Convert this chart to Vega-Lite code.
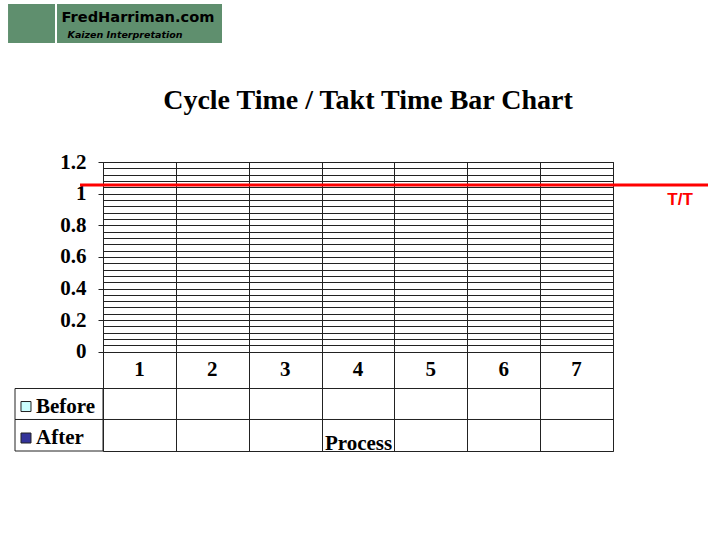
{
  "$schema": "https://vega.github.io/schema/vega-lite/v6.json",
  "padding": {"left": 8, "top": 3, "right": 10, "bottom": 5},
  "background": "white",
  "config": {"font": "Liberation Serif", "view": {"stroke": null}},
  "datasets": {
    "cells": [
      {"process": "1", "series": "Before", "value": null},
      {"process": "1", "series": "After", "value": null},
      {"process": "2", "series": "Before", "value": null},
      {"process": "2", "series": "After", "value": null},
      {"process": "3", "series": "Before", "value": null},
      {"process": "3", "series": "After", "value": null},
      {"process": "4", "series": "Before", "value": null},
      {"process": "4", "series": "After", "value": null},
      {"process": "5", "series": "Before", "value": null},
      {"process": "5", "series": "After", "value": null},
      {"process": "6", "series": "Before", "value": null},
      {"process": "6", "series": "After", "value": null},
      {"process": "7", "series": "Before", "value": null},
      {"process": "7", "series": "After", "value": null}
    ],
    "takt": [{"label": "T/T", "value": 1.055}],
    "logo": [{"line": "FredHarriman.com"}, {"line": "Kaizen Interpretation"}]
  },
  "bounds": "full",
  "spacing": 42,
  "vconcat": [
    {
      "width": 119,
      "height": 39,
      "data": {"name": "logo"},
      "layer": [
        {
          "transform": [{"filter": "datum.line == 'FredHarriman.com'"}],
          "mark": {"type": "rect", "fill": "#5f8f6e"},
          "encoding": {
            "x": {"datum": -0.798, "type": "quantitative", "scale": {"domain": [0, 1], "nice": false, "zero": false}, "axis": null},
            "x2": {"datum": 1}
          }
        },
        {
          "transform": [{"filter": "datum.line == 'FredHarriman.com'"}],
          "mark": {"type": "rule", "color": "white", "strokeWidth": 2},
          "encoding": {
            "x": {"datum": -0.395, "type": "quantitative", "axis": null}
          }
        },
        {
          "transform": [{"filter": "datum.line == 'FredHarriman.com'"}],
          "mark": {"type": "text", "font": "DejaVu Sans", "fontSize": 14.6, "fontWeight": "bold", "color": "black", "baseline": "middle", "align": "center"},
          "encoding": {
            "x": {"datum": 0.294, "type": "quantitative", "axis": null},
            "y": {"field": "line", "type": "nominal", "scale": {"type": "point", "domain": ["FredHarriman.com", "Kaizen Interpretation"], "padding": 0.68, "align": 0.644}, "axis": null},
            "text": {"field": "line"}
          }
        },
        {
          "transform": [{"filter": "datum.line == 'Kaizen Interpretation'"}],
          "mark": {"type": "text", "font": "DejaVu Sans", "fontSize": 9.5, "fontWeight": "bold", "fontStyle": "italic", "color": "black", "baseline": "middle", "align": "center"},
          "encoding": {
            "x": {"datum": 0.185, "type": "quantitative", "axis": null},
            "y": {"field": "line", "type": "nominal", "axis": null},
            "text": {"field": "line"}
          }
        }
      ]
    },
    {
      "width": 510,
      "height": 289,
      "view": {"stroke": "#222", "strokeWidth": 1},
      "title": {"text": "Cycle Time / Takt Time Bar Chart", "font": "Liberation Serif", "fontSize": 28, "fontWeight": "bold", "color": "black", "frame": "group", "anchor": "middle", "dx": 10, "offset": 36},
      "data": {"name": "cells"},
      "layer": [
        {
          "mark": {"type": "bar"},
          "encoding": {
            "x": {"field": "process", "type": "nominal", "scale": {"type": "band", "domain": ["1", "2", "3", "4", "5", "6", "7"], "paddingInner": 0, "paddingOuter": 0}, "axis": null},
            "y": {"field": "value", "type": "quantitative", "stack": null, "title": null, "scale": {"domain": [-0.6275, 1.2], "nice": false, "zero": false}},
            "color": {"field": "series", "type": "nominal", "scale": {"domain": ["Before", "After"], "range": ["#CCFFFF", "#333399"]}, "legend": null}
          }
        },
        {
          "transform": [{"filter": "datum.series == 'Before'"}],
          "mark": {"type": "text", "font": "Liberation Serif", "fontSize": 21, "fontWeight": "bold", "color": "black", "baseline": "middle"},
          "encoding": {
            "x": {
              "field": "process", "type": "nominal",
              "scale": {"type": "band", "domain": ["1", "2", "3", "4", "5", "6", "7"], "paddingInner": 0, "paddingOuter": 0},
              "axis": {"labels": false, "ticks": false, "domain": false, "grid": true, "gridColor": "#222", "gridOpacity": 1, "gridWidth": 1, "tickBand": "extent", "title": "Process", "titleFont": "Liberation Serif", "titleFontSize": 21, "titleFontWeight": "bold", "titleColor": "black", "titleBaseline": "alphabetic", "titleY": -2}
            },
            "y": {
              "datum": -0.1153, "type": "quantitative",
              "scale": {"domain": [-0.6275, 1.2], "nice": false, "zero": false},
              "axis": {
                "values": [0, 0.04, 0.08, 0.12, 0.16, 0.2, 0.24, 0.28, 0.32, 0.36, 0.4, 0.44, 0.48, 0.52, 0.56, 0.6, 0.64, 0.68, 0.72, 0.76, 0.8, 0.84, 0.88, 0.92, 0.96, 1, 1.04, 1.08, 1.12, 1.16, 1.2],
                "tickCount": 100,
                "title": null,
                "domain": false,
                "grid": true, "gridColor": "#222", "gridOpacity": 1, "gridWidth": 1,
                "ticks": true, "tickSize": 5, "tickColor": "#222", "tickWidth": 1,
                "tickOpacity": {"condition": {"test": "abs(datum.value*5 - round(datum.value*5)) < 0.001", "value": 1}, "value": 0},
                "labelExpr": "abs(datum.value*5 - round(datum.value*5)) < 0.001 ? toString(round(datum.value*10)/10) : ''",
                "labelFont": "Liberation Serif", "labelFontSize": 21, "labelFontWeight": "bold", "labelColor": "black",
                "labelPadding": 12, "labelOverlap": false, "labelFlush": false, "labelBound": false
              }
            },
            "text": {"field": "process"}
          }
        },
        {
          "transform": [{"filter": "datum.process == '1' && datum.series == 'Before'"}],
          "mark": {"type": "rect", "fill": "white", "stroke": "#222", "strokeWidth": 1},
          "encoding": {
            "x": {"datum": -1.2078, "type": "quantitative", "scale": {"domain": [0, 7], "nice": false, "zero": false}, "axis": null},
            "x2": {"datum": 0},
            "y": {"datum": -0.2323, "type": "quantitative"},
            "y2": {"datum": -0.4283}
          }
        },
        {
          "transform": [{"filter": "datum.process == '1' && datum.series == 'Before'"}],
          "mark": {"type": "rule", "color": "#222", "strokeWidth": 1},
          "encoding": {"y": {"datum": -0.2323, "type": "quantitative"}}
        },
        {
          "transform": [{"filter": "datum.process == '1' && datum.series == 'Before'"}],
          "mark": {"type": "point", "shape": "square", "filled": true, "size": 100, "opacity": 1, "stroke": "#222", "strokeWidth": 1},
          "encoding": {
            "x": {"datum": -1.057, "type": "quantitative", "scale": {"domain": [0, 7], "nice": false, "zero": false}, "axis": null},
            "y": {"datum": -0.3463, "type": "quantitative"},
            "color": {"field": "series", "type": "nominal", "legend": null}
          }
        },
        {
          "transform": [{"filter": "datum.process == '1' && datum.series == 'Before'"}],
          "mark": {"type": "text", "align": "left", "baseline": "middle", "font": "Liberation Serif", "fontSize": 21, "fontWeight": "bold", "color": "black"},
          "encoding": {
            "x": {"datum": -0.9196, "type": "quantitative", "scale": {"domain": [0, 7], "nice": false, "zero": false}, "axis": null},
            "y": {"datum": -0.3463, "type": "quantitative"},
            "text": {"field": "series"}
          }
        },
        {
          "transform": [{"filter": "datum.process == '1' && datum.series == 'After'"}],
          "mark": {"type": "rect", "fill": "white", "stroke": "#222", "strokeWidth": 1},
          "encoding": {
            "x": {"datum": -1.2078, "type": "quantitative", "scale": {"domain": [0, 7], "nice": false, "zero": false}, "axis": null},
            "x2": {"datum": 0},
            "y": {"datum": -0.4283, "type": "quantitative"},
            "y2": {"datum": -0.6275}
          }
        },
        {
          "transform": [{"filter": "datum.process == '1' && datum.series == 'After'"}],
          "mark": {"type": "rule", "color": "#222", "strokeWidth": 1},
          "encoding": {"y": {"datum": -0.4283, "type": "quantitative"}}
        },
        {
          "transform": [{"filter": "datum.process == '1' && datum.series == 'After'"}],
          "mark": {"type": "point", "shape": "square", "filled": true, "size": 100, "opacity": 1, "stroke": "#222", "strokeWidth": 1},
          "encoding": {
            "x": {"datum": -1.057, "type": "quantitative", "scale": {"domain": [0, 7], "nice": false, "zero": false}, "axis": null},
            "y": {"datum": -0.5453, "type": "quantitative"},
            "color": {"field": "series", "type": "nominal", "legend": null}
          }
        },
        {
          "transform": [{"filter": "datum.process == '1' && datum.series == 'After'"}],
          "mark": {"type": "text", "align": "left", "baseline": "middle", "font": "Liberation Serif", "fontSize": 21, "fontWeight": "bold", "color": "black"},
          "encoding": {
            "x": {"datum": -0.9196, "type": "quantitative", "scale": {"domain": [0, 7], "nice": false, "zero": false}, "axis": null},
            "y": {"datum": -0.5453, "type": "quantitative"},
            "text": {"field": "series"}
          }
        },
        {
          "data": {"name": "takt"},
          "mark": {"type": "rule", "color": "#ff0000", "strokeWidth": 3},
          "encoding": {
            "x": {"datum": -0.3157, "type": "quantitative", "scale": {"domain": [0, 7], "nice": false, "zero": false}, "axis": null},
            "x2": {"datum": 8.304},
            "y": {"field": "value", "type": "quantitative", "title": null}
          }
        },
        {
          "data": {"name": "takt"},
          "mark": {"type": "text", "color": "#ff0000", "font": "Liberation Sans", "fontWeight": "bold", "fontSize": 17, "baseline": "middle", "dy": 15},
          "encoding": {
            "x": {"datum": 7.92, "type": "quantitative", "scale": {"domain": [0, 7], "nice": false, "zero": false}, "axis": null},
            "y": {"field": "value", "type": "quantitative", "title": null},
            "text": {"field": "label"}
          }
        }
      ],
      "resolve": {"scale": {"x": "independent"}}
    }
  ]
}
